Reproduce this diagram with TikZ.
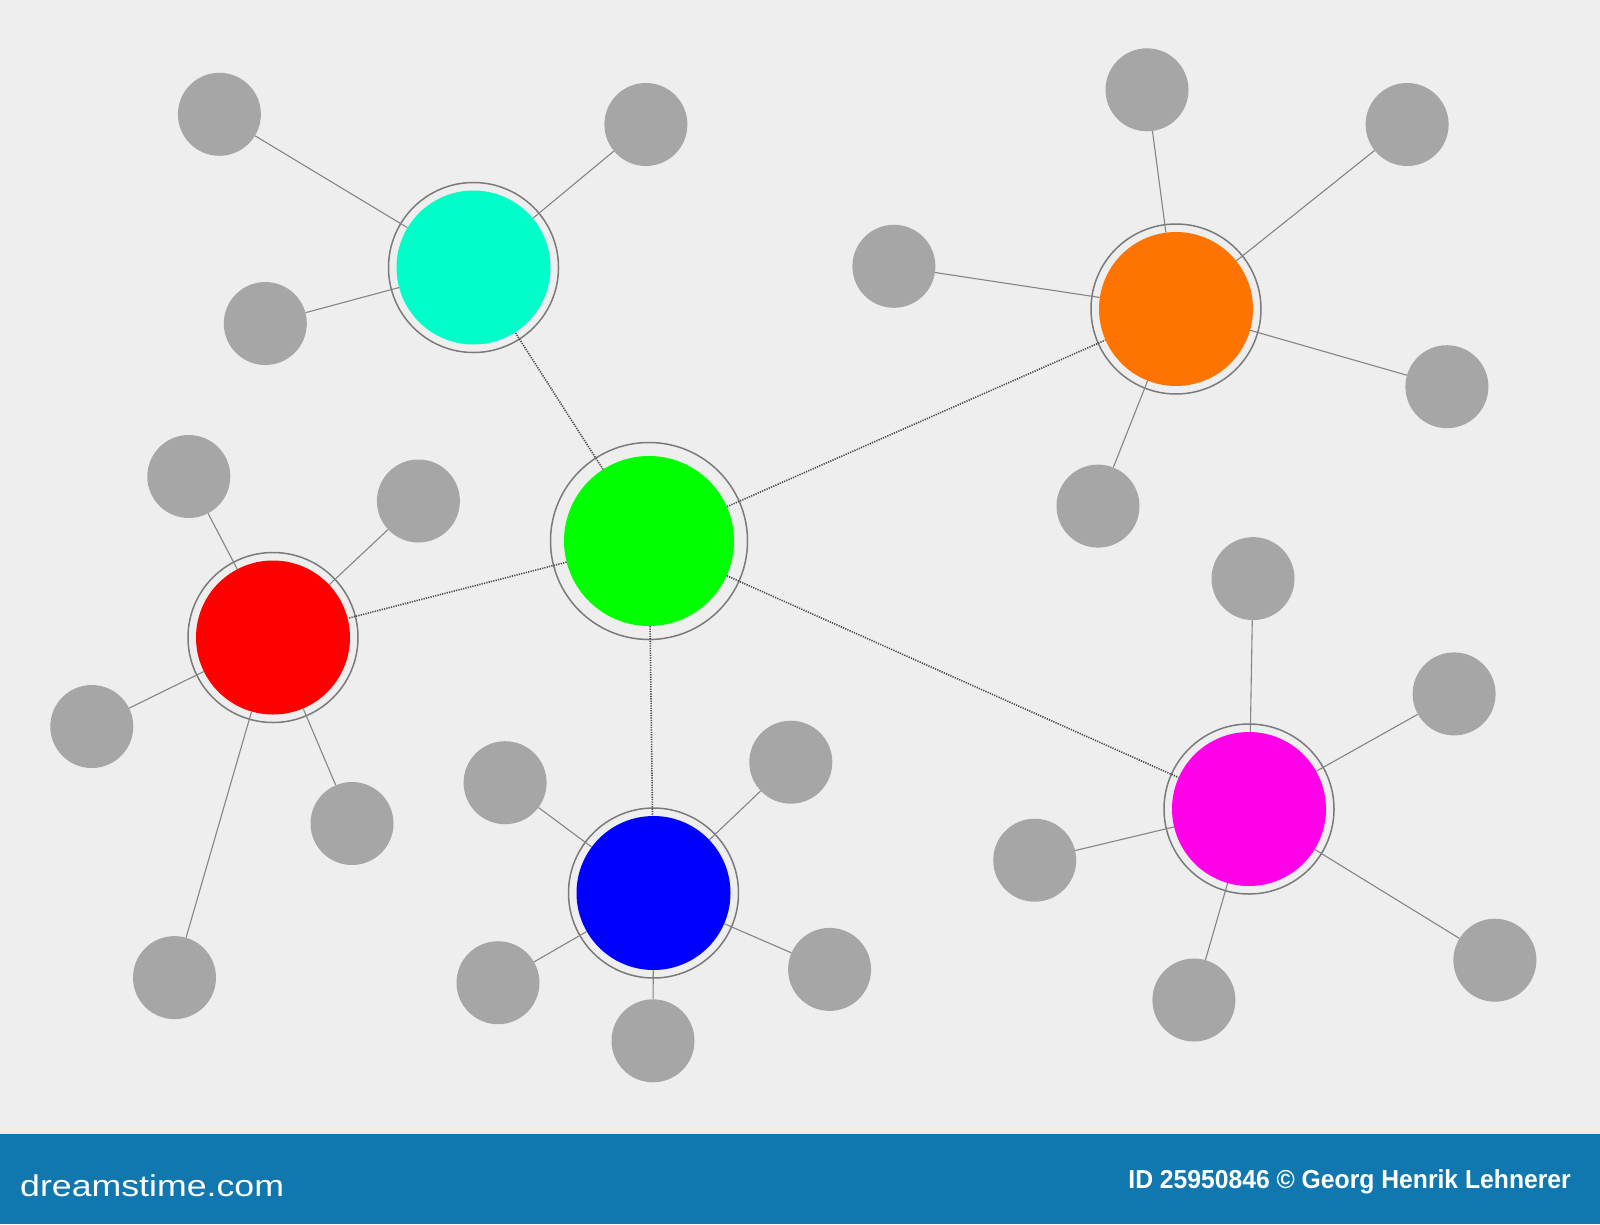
\documentclass[tikz,border=0pt]{standalone}
\usepackage{fontspec}
\setmainfont{Liberation Sans}
\definecolor{bg}{HTML}{EEEEEE}
\definecolor{sat}{HTML}{A6A6A6}
\definecolor{ringc}{HTML}{7A7A7A}
\definecolor{linec}{HTML}{858585}
\definecolor{hubline}{HTML}{4A4A4A}
\definecolor{barc}{HTML}{1177AF}
\definecolor{hcyan}{HTML}{00FFC8}
\definecolor{hgreen}{HTML}{00FF00}
\definecolor{hred}{HTML}{FF0000}
\definecolor{horange}{HTML}{FF7300}
\definecolor{hmag}{HTML}{FF00E8}
\definecolor{hblue}{HTML}{0000FF}
\begin{document}
\begin{tikzpicture}[x=1pt,y=-1pt,
  satnode/.style={circle,fill=sat,minimum size=83pt,inner sep=0pt},
  hubnode/.style={circle,fill=#1,minimum size=154pt,inner sep=0pt},
  ringnode/.style={circle,draw=ringc,line width=1.5pt,minimum size=170pt,inner sep=0pt},
  spoke/.style={draw=linec,line width=1.1pt},
  link/.style={draw=hubline,line width=1.6pt,dash pattern=on 1.2pt off 1.2pt}]
\useasboundingbox (0,0) rectangle (1600,1224);
\fill[bg] (0,0) rectangle (1600,1224);
\fill[barc] (0,1134) rectangle (1600,1224);

% rings
\node[ringnode] (rcyan) at (473.5,267.5) {};
\node[ringnode,minimum size=197pt] (rgreen) at (649,541) {};
\node[ringnode] (rred) at (273,637.5) {};
\node[ringnode] (rorange) at (1176,309) {};
\node[ringnode] (rmag) at (1249,809) {};
\node[ringnode] (rblue) at (653.5,893) {};

% hubs
\node[hubnode=hcyan] (cyan) at (473.5,267.5) {};
\node[hubnode=hgreen,minimum size=170pt] (green) at (649,541) {};
\node[hubnode=hred] (red) at (273,637.5) {};
\node[hubnode=horange] (orange) at (1176,309) {};
\node[hubnode=hmag] (mag) at (1249,809) {};
\node[hubnode=hblue] (blue) at (653.5,893) {};

% satellites
\node[satnode] (c1) at (219.4,114.3) {};
\node[satnode] (c2) at (645.9,124.5) {};
\node[satnode] (c3) at (265.3,323.5) {};
\node[satnode] (o1) at (1147,89.8) {};
\node[satnode] (o2) at (1407.1,124.5) {};
\node[satnode] (o3) at (893.9,266.3) {};
\node[satnode] (o4) at (1446.9,386.7) {};
\node[satnode] (o5) at (1098,506.1) {};
\node[satnode] (r1) at (188.8,476.5) {};
\node[satnode] (r2) at (418.4,501) {};
\node[satnode] (r3) at (91.8,726.5) {};
\node[satnode] (r4) at (352,823.5) {};
\node[satnode] (r5) at (174.5,977.6) {};
\node[satnode] (b1) at (505.1,782.7) {};
\node[satnode] (b2) at (790.8,762.2) {};
\node[satnode] (b3) at (498,982.7) {};
\node[satnode] (b4) at (829.6,969.4) {};
\node[satnode] (b5) at (653,1040.8) {};
\node[satnode] (m1) at (1253,578.6) {};
\node[satnode] (m2) at (1454.1,693.9) {};
\node[satnode] (m3) at (1034.7,860.2) {};
\node[satnode] (m4) at (1494.9,960.2) {};
\node[satnode] (m5) at (1193.9,1000) {};

% hub links
\draw[link] (green) -- (cyan);
\draw[link] (green) -- (orange);
\draw[link] (green) -- (red);
\draw[link] (green) -- (blue);
\draw[link] (green) -- (mag);

% spokes
\foreach \h/\s in {cyan/c1,cyan/c2,cyan/c3,
  orange/o1,orange/o2,orange/o3,orange/o4,orange/o5,
  red/r1,red/r2,red/r3,red/r4,red/r5,
  blue/b1,blue/b2,blue/b3,blue/b4,blue/b5,
  mag/m1,mag/m2,mag/m3,mag/m4,mag/m5}
  \draw[spoke] (\h) -- (\s);

% footer
\node[anchor=base west,inner sep=0pt,text=white,font=\fontsize{30}{30}\selectfont] (logo) at (20,1196) {\scalebox{1.19}[1]{dreamstime.com}};
\node[anchor=base east,inner sep=0pt,text=white,font=\fontsize{26}{26}\selectfont\bfseries] (credit) at (1571,1188) {\scalebox{0.95}[1]{ID 25950846 © Georg Henrik Lehnerer}};
\end{tikzpicture}
\end{document}
